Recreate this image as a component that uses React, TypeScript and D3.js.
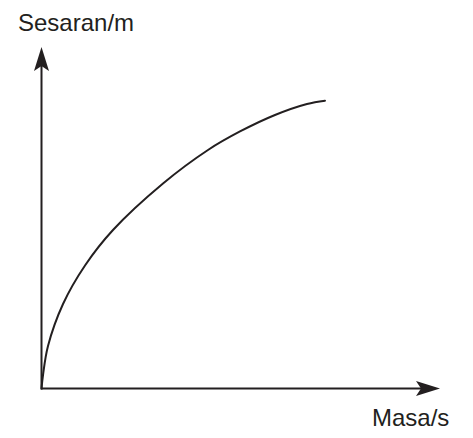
import React from "react";
import * as d3 from "d3";

const xLabel = "Masa/s";
const yLabel = "Sesaran/m";
const timeValues = [0, 0.038, 0.163, 0.54, 1.092, 1.794, 3.049, 4.178, 4.981, 5.859, 6.662, 7.114];
const displacementValues = [0, 0.395, 1.245, 2.474, 3.602, 4.641, 6.003, 6.984, 7.526, 8.009, 8.331, 8.427];

const W = 473;
const H = 438;
const ink = "#231f20";

export default function App() {
  const x = d3.scaleLinear().domain([0, 10]).range([41.5, 440]);
  const y = d3.scaleLinear().domain([0, 10]).range([388.5, 47]);
  const data = timeValues.map((t, i) => [t, displacementValues[i]] as [number, number]);
  const line = d3
    .line<[number, number]>()
    .x((d) => x(d[0]))
    .y((d) => y(d[1]))
    .curve(d3.curveCatmullRom.alpha(0.5));

  const x0 = x(0);
  const y0 = y(0);
  const xTip = x(10);
  const yTip = y(10);
  const aLen = 24;
  const aHalf = 7.5;
  const notch = 5;

  const xArrow = `M${xTip},${y0} L${xTip - aLen},${y0 - aHalf} L${xTip - aLen + notch},${y0} L${xTip - aLen},${y0 + aHalf} Z`;
  const yArrow = `M${x0},${yTip} L${x0 - aHalf},${yTip + aLen} L${x0},${yTip + aLen - notch} L${x0 + aHalf},${yTip + aLen} Z`;

  return (
    <svg
      width={W}
      height={H}
      style={{ position: "absolute", left: 0, top: 0, background: "#fff" }}
      fontFamily="'Liberation Sans', Arial, sans-serif"
    >
      <rect width={W} height={H} fill="#fff" />
      <line x1={x0} y1={y0} x2={xTip - aLen + notch} y2={y0} stroke={ink} strokeWidth={2} />
      <line x1={x0} y1={y0 + 1} x2={x0} y2={yTip + aLen - notch} stroke={ink} strokeWidth={2} />
      <path d={xArrow} fill={ink} />
      <path d={yArrow} fill={ink} />
      <path d={line(data) || ""} fill="none" stroke={ink} strokeWidth={2} strokeLinecap="round" />
      <text x={18} y={31} fontSize={24} fill={ink}>
        {yLabel}
      </text>
      <text x={372} y={426} fontSize={24} fill={ink}>
        {xLabel}
      </text>
    </svg>
  );
}
